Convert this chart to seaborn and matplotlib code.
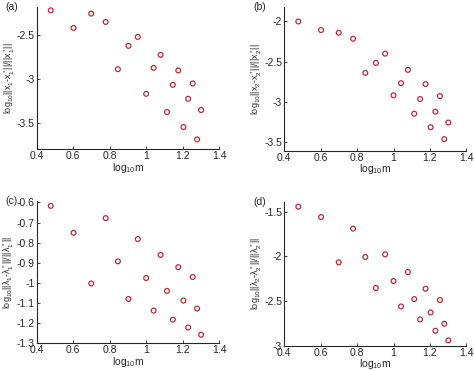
import seaborn as sns
import matplotlib.pyplot as plt
import pandas as pd

# log10(m) for m = 3..20
log_m = [0.477, 0.602, 0.699, 0.778, 0.845, 0.903, 0.954, 1.000, 1.041,
         1.079, 1.114, 1.146, 1.176, 1.204, 1.230, 1.255, 1.279, 1.301]

err_x1 = [-2.227, -2.425, -2.264, -2.358, -2.890, -2.627, -2.526, -3.167, -2.875,
          -2.728, -3.373, -3.066, -2.904, -3.541, -3.223, -3.051, -3.680, -3.350]
err_x2 = [-2.000, -2.107, -2.140, -2.215, -2.640, -2.516, -2.401, -2.921, -2.769,
          -2.603, -3.149, -2.967, -2.781, -3.318, -3.124, -2.930, -3.467, -3.260]
err_l1 = [-0.617, -0.751, -1.003, -0.678, -0.893, -1.080, -0.782, -0.976, -1.138,
          -0.861, -1.040, -1.183, -0.922, -1.088, -1.222, -0.971, -1.128, -1.258]
err_l2 = [-1.444, -1.560, -2.067, -1.690, -2.007, -2.354, -1.978, -2.276, -2.560,
          -2.175, -2.478, -2.705, -2.362, -2.627, -2.832, -2.489, -2.754, -2.940]

panel_tags = ["(a)", "(b)", "(c)", "(d)"]
y_labels = [r"log$_{10}$||x$_1$-x$_1^*$||/||x$_1^*$||",
            r"log$_{10}$||x$_2$-x$_2^*$||/||x$_2^*$||",
            r"log$_{10}$||$\lambda_1$-$\lambda_1^*$||/||$\lambda_1^*$||",
            r"log$_{10}$||$\lambda_2$-$\lambda_2^*$||/||$\lambda_2^*$||"]
y_ticks = [[-3.5, -3, -2.5], [-3.5, -3, -2.5, -2],
           [-1.3, -1.2, -1.1, -1, -0.9, -0.8, -0.7, -0.6], [-3, -2.5, -2, -1.5]]
y_limits = [(-3.79, -2.19), (-3.61, -1.82), (-1.3, -0.595), (-3.0, -1.39)]

sns.set_style("ticks")
plt.rcParams['font.family'] = ['Liberation Sans', 'DejaVu Sans']
plt.rcParams['mathtext.fontset'] = 'custom'
plt.rcParams['mathtext.rm'] = 'Liberation Sans'
plt.rcParams['mathtext.it'] = 'Liberation Sans'

df = pd.DataFrame({"log_m": log_m, "a": err_x1, "b": err_x2, "c": err_l1, "d": err_l2})

fig = plt.figure(figsize=(4.74, 3.71), dpi=100)
positions = [[0.0774, 0.598, 0.385, 0.383],
             [0.5998, 0.594, 0.384, 0.387],
             [0.0774, 0.075, 0.385, 0.382],
             [0.5998, 0.068, 0.384, 0.388]]

for key, pos, tag, ylab, yt, yl in zip(["a", "b", "c", "d"], positions, panel_tags,
                                        y_labels, y_ticks, y_limits):
    ax = fig.add_axes(pos)
    sns.scatterplot(data=df, x="log_m", y=key, ax=ax, marker="o", s=12,
                    facecolors="none", edgecolor="#bb2a3c", linewidth=0.9)
    ax.set_xlim(0.4, 1.4)
    ax.set_ylim(*yl)
    ax.set_xticks([0.4, 0.6, 0.8, 1.0, 1.2, 1.4])
    ax.set_xticklabels(["0.4", "0.6", "0.8", "1", "1.2", "1.4"])
    ax.set_yticks(yt)
    ax.set_yticklabels([f"{v:g}" for v in yt])
    ax.tick_params(direction="in", length=2, width=0.6, labelsize=7.5, pad=1.5)
    ax.set_xlabel(r"log$_{10}$m", fontsize=7.5, labelpad=-0.5)
    ax.set_ylabel(ylab, fontsize=6.5, labelpad=0)
    for sp in ["left", "bottom"]:
        ax.spines[sp].set_linewidth(0.8)
    sns.despine(ax=ax)
    ax.text(-0.17, 1.0, tag, transform=ax.transAxes, fontsize=7.5, va="center", ha="left")

fig.savefig("out.png", dpi=100)
